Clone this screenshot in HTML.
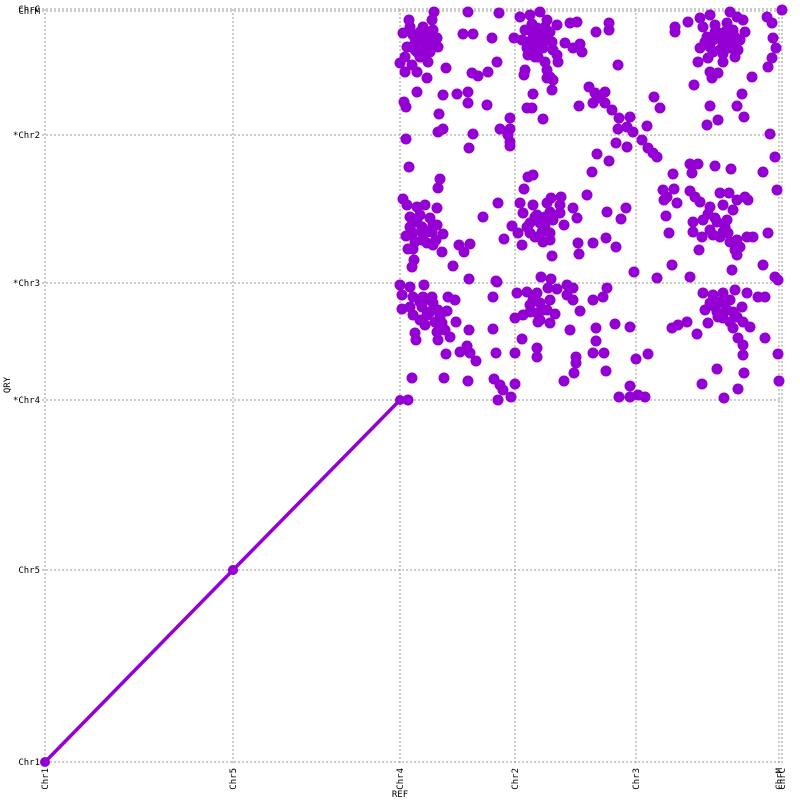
<!DOCTYPE html>
<html><head><meta charset="utf-8"><style>
html,body{margin:0;padding:0;background:#fff;}
svg{display:block;}
text{font-family:"DejaVu Sans Mono","Liberation Mono",monospace;font-size:9px;fill:#000;}
</style></head><body>
<svg id="chart" width="800" height="800" viewBox="0 0 800 800" xmlns="http://www.w3.org/2000/svg">
<g id="grid"></g>
<g id="marks"></g>
<g id="axes"></g>
<text x="400" y="797" text-anchor="middle">REF</text>
<text transform="translate(10,385) rotate(-90)" text-anchor="middle">QRY</text>
</svg>
<script>
// axis data (positions in kb along concatenated sequences)
const refTicks = [0,188,355,470,591,734,737];
const refLabels = ["Chr1","Chr5","Chr4","Chr2","Chr3","ChrM","ChrC"];
const qryTicks = [0,192,362,479,627,751,753];
const qryLabels = ["Chr1","Chr5","*Chr4","*Chr3","*Chr2","ChrM","ChrC"];
const refMax = 737;
const qryMax = 753;
// long alignments
const alignStartRef = [0,188];
const alignStartQry = [0,192];
const alignEndRef = [188,355];
const alignEndQry = [192,362];
// short hits [ref, qry]
const hits = [
[389,750],[423,750],[454,749],[364,742],[365,735],[358,729],[378,735],[387,742],[375,725],[382,722],[370,719],[362,715],[392,724],[393,715],[372,710],[360,705],[355,699],[367,697],[360,690],[372,690],[382,684],[401,694],[418,728],[428,728],[447,724],[452,700],[427,689],[433,686],[443,690],[372,670],[398,667],[412,668],[423,670],[423,659],[442,657],[359,660],[361,655],[394,648],[393,630],[398,633],[428,628],[455,633],[465,644],[465,633],[463,627],[465,620],[465,616],[361,623],[424,614],[364,595],[395,583],[393,574],[358,563],
[378,728],[385,715],[375,705],[388,732],[383,700],[368,727],
[375,730],[382,728],[372,722],[380,715],[387,718],[370,712],[378,705],[385,710],
[475,745],[485,747],[495,750],[502,742],[512,737],[480,732],[492,734],[505,730],[477,722],[488,724],[498,722],[507,720],[482,714],[492,712],[498,714],[483,707],[469,724],[508,712],[512,707],[513,700],[500,700],[502,692],[505,685],[502,684],[508,682],[507,672],[480,692],[479,687],[488,668],[482,654],[487,654],[498,643],[520,719],[528,714],[537,710],[535,718],[525,739],[532,740],[551,730],[564,739],[564,732],[573,697],[534,656],[479,573],[483,585],[488,587],[542,567],[506,564],[516,565],
[487,738],[495,728],[485,718],[500,735],[490,705],
[487,730],[495,718],[490,720],[500,727],[483,720],[493,705],[488,712],
[544,675],[550,669],[555,664],[560,670],[548,659],[560,659],[567,652],[574,644],[585,645],[582,635],[573,633],[588,630],[597,622],[603,614],[608,609],[612,605],[571,619],[582,615],[552,608],[564,601],[547,590],[602,636],[609,665],[615,654],
[655,744],[665,747],[685,750],[692,745],[698,742],[658,735],[670,737],[682,739],[688,732],[700,730],[662,725],[673,727],[683,724],[695,722],[655,714],[665,715],[675,712],[685,714],[693,712],[663,704],[653,700],[678,700],[665,690],[673,689],[667,684],[643,740],[630,735],[630,730],[649,677],[707,685],[722,745],[727,739],[728,724],[731,714],[727,704],[723,695],[737,752],[665,656],[692,656],[697,668],[699,645],[673,642],[662,637],[725,628],[730,605],[718,590],[732,572],[628,588],[645,598],[653,598],[670,596],[686,593],[647,589],[618,572],[629,573],[645,571],[650,565],[675,569],[684,569],[700,565],[622,565],
[670,730],[678,718],[690,725],[660,720],
[668,722],[678,720],[672,730],[680,730],[688,720],[668,710],[678,708],[690,705],
[362,557],[372,555],[380,557],[392,554],[365,545],[375,547],[385,544],[365,535],[377,535],[388,537],[368,529],[378,529],[392,537],[361,526],[398,528],[382,519],[391,522],[388,517],[363,513],[368,513],[397,510],[414,517],[425,518],[419,510],[369,502],[367,495],[408,496],[438,545],[453,559],[459,523],[424,483],[451,481],
[372,540],[382,530],[377,522],[387,530],[370,520],
[475,559],[488,557],[502,559],[515,557],[478,549],[492,547],[505,550],[515,549],[485,539],[495,539],[508,542],[473,529],[485,529],[497,530],[505,529],[498,520],[505,522],[477,517],[467,536],[519,537],[528,554],[532,544],[533,519],[534,508],[507,506],[548,519],[561,524],[571,515],[562,550],[576,543],[581,554],[589,490],[612,484],[496,485],[506,483],
[490,545],[500,535],[482,535],[490,525],[500,545],
[655,560],[665,555],[678,557],[688,552],[658,542],[670,544],[682,542],[665,532],[678,530],[657,525],[668,527],[683,529],[692,522],[702,525],[695,515],[690,512],[708,525],[692,507],[654,512],[648,540],[648,530],[621,546],[624,529],[619,562],[632,559],[703,562],[692,562],[723,529],[687,492],[718,497],[627,497],[645,485],[730,485],[733,482],
[672,540],[680,535],[675,525],[685,520],[663,548],
[355,477],[365,475],[357,467],[368,465],[378,465],[387,465],[365,455],[377,455],[388,459],[368,447],[382,447],[393,452],[375,442],[357,453],[403,465],[410,462],[402,451],[397,439],[400,432],[405,425],[392,430],[393,422],[370,429],[371,422],[411,440],[379,477],[424,432],[448,433],[448,465],[452,480],[422,416],[415,410],[425,409],[431,401],[401,408],[451,409],[367,384],[399,384],[423,381],[449,383],[455,377],[458,372],[453,362],[466,365],[470,378],[363,362],
[375,460],[385,450],[390,440],[380,437],[395,445],[385,462],
[472,469],[482,470],[492,469],[503,474],[512,473],[485,457],[495,459],[505,462],[478,447],[492,449],[502,452],[470,444],[495,442],[505,439],[522,467],[528,462],[535,451],[522,477],[528,474],[548,462],[558,465],[562,474],[477,423],[492,414],[492,405],[525,432],[519,381],[529,389],[531,399],[531,405],[551,434],[551,421],[548,409],[559,409],[561,391],[570,438],[585,435],[591,403],[603,408],[585,376],[574,365],[585,365],[593,367],[600,365],[470,409],
[488,462],[498,452],[485,450],[493,440],[510,448],
[658,469],[668,467],[678,469],[690,472],[665,459],[675,460],[685,462],[660,452],[672,450],[682,452],[678,444],[692,445],[698,440],[702,469],[697,455],[713,465],[720,465],[705,435],[688,434],[693,424],[698,417],[698,407],[663,439],[652,428],[627,434],[633,437],[642,440],[720,424],[733,408],[699,389],[672,393],[657,378],[693,373],[679,364],[734,381],
[670,455],[680,458],[688,450],[685,440],[673,445]
];

const X0=45, X1=782, Y0=762, Y1=9;
const NS="http://www.w3.org/2000/svg";
function xs(v){return X0+(v/refMax)*(X1-X0);}
function ys(v){return Y0-(v/qryMax)*(Y0-Y1);}
function mk(tag,attrs,parent){const e=document.createElementNS(NS,tag);for(const k in attrs)e.setAttribute(k,attrs[k]);parent.appendChild(e);return e;}
const grid=document.getElementById('grid'), marks=document.getElementById('marks'), axes=document.getElementById('axes');
const COL="#9400d3";

refTicks.forEach((t,i)=>{
  const x=xs(t);
  const l=mk('line',{x1:x,y1:Y1,x2:x,y2:Y0+3,stroke:'#999','stroke-width':1,'stroke-dasharray':'2,2'},grid);
  
  
  const tx=mk('text',{transform:`translate(${x+3},${Y0+6}) rotate(-90)`,'text-anchor':'end'},axes);
  tx.textContent=refLabels[i];
  
  
});
qryTicks.forEach((t,i)=>{
  const y=ys(t);
  const l=mk('line',{x1:X0-3,y1:y,x2:X1,y2:y,stroke:'#999','stroke-width':1,'stroke-dasharray':'2,2'},grid);
  
  
  const tx=mk('text',{x:X0-5,y:y+3,'text-anchor':'end'},axes);
  tx.textContent=qryLabels[i];
  
  
});

alignStartRef.forEach((r,i)=>{
  const ln=mk('line',{x1:xs(r),y1:ys(alignStartQry[i]),x2:xs(alignEndRef[i]),y2:ys(alignEndQry[i]),stroke:COL,'stroke-width':3.5},marks);
  
  
  const c1=mk('circle',{cx:xs(r),cy:ys(alignStartQry[i]),r:5,fill:COL},marks);
  
  
  const c2=mk('circle',{cx:xs(alignEndRef[i]),cy:ys(alignEndQry[i]),r:5,fill:COL},marks);
  
  
});
hits.forEach(h=>{
  const c=mk('circle',{cx:xs(h[0]),cy:ys(h[1]),r:5.5,fill:COL},marks);
  
  
});
</script>
</body></html>
